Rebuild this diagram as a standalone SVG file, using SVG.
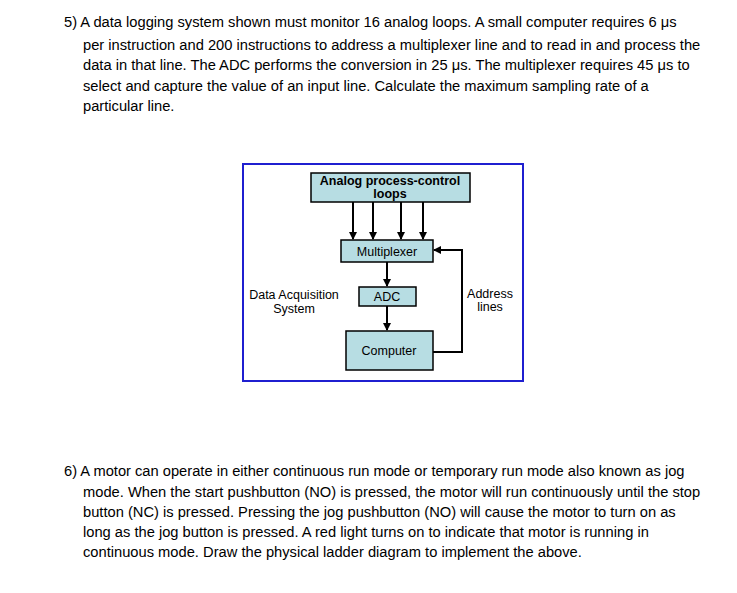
<svg xmlns="http://www.w3.org/2000/svg" width="737" height="593" viewBox="0 0 737 593">
<style>
.p{font-family:"Liberation Sans",Arial,sans-serif;font-size:14.7px;fill:#000}
.b{fill:#b7dde3;stroke:#000;stroke-width:1.5}
.t{font-family:"Liberation Sans",Arial,sans-serif;font-size:12.5px;fill:#000;text-anchor:middle}
.c{stroke:#000;stroke-width:2;fill:none}
</style>
<defs><marker id="a" markerWidth="8" markerHeight="8" refX="7" refY="4" orient="auto" markerUnits="userSpaceOnUse"><path d="M0,0L8,4L0,8z" fill="#000"/></marker></defs>
<rect width="737" height="593" fill="#fff"/>
<g id="text5" class="p">
<text x="64" y="27">5) A data logging system shown must monitor 16 analog loops. A small computer requires 6 μs</text>
<text x="83" y="50">per instruction and 200 instructions to address a multiplexer line and to read in and process the</text>
<text x="83" y="70">data in that line. The ADC performs the conversion in 25 μs. The multiplexer requires 45 μs to</text>
<text x="83" y="91">select and capture the value of an input line. Calculate the maximum sampling rate of a</text>
<text x="83" y="111">particular line.</text>
</g>
<rect id="frame" x="243" y="164" width="280" height="217" fill="none" stroke="#1f1fd0" stroke-width="2"/>
<g id="loops"><rect class="b" x="311" y="173" width="159" height="29"/><text class="t" x="390" y="185" font-weight="bold">Analog process-control</text><text class="t" x="390" y="198" font-weight="bold">loops</text></g>
<g id="mux"><rect class="b" x="341" y="240" width="92" height="22"/><text class="t" x="387" y="256">Multiplexer</text></g>
<g id="adc"><rect class="b" x="359" y="287" width="57" height="19"/><text class="t" x="387" y="301">ADC</text></g>
<g id="computer"><rect class="b" x="346" y="331" width="87" height="39"/><text class="t" x="389" y="355" font-size="14">Computer</text></g>
<g id="labels"><text class="t" x="294" y="299">Data Acquisition</text><text class="t" x="294" y="313">System</text><text class="t" x="490" y="298">Address</text><text class="t" x="490" y="311">lines</text></g>
<g id="connectors" class="c">
<line x1="353" y1="202" x2="353" y2="239" marker-end="url(#a)"/>
<line x1="373" y1="202" x2="373" y2="239" marker-end="url(#a)"/>
<line x1="401" y1="202" x2="401" y2="239" marker-end="url(#a)"/>
<line x1="423" y1="202" x2="423" y2="239" marker-end="url(#a)"/>
<line x1="387" y1="262" x2="387" y2="286" marker-end="url(#a)"/>
<line x1="387" y1="306" x2="387" y2="330" marker-end="url(#a)"/>
<polyline points="433,352 462,352 462,250 434,250" marker-end="url(#a)"/>
</g>
<g id="text6" class="p">
<text x="64" y="476">6) A motor can operate in either continuous run mode or temporary run mode also known as jog</text>
<text x="83" y="497">mode. When the start pushbutton (NO) is pressed, the motor will run continuously until the stop</text>
<text x="83" y="517">button (NC) is pressed. Pressing the jog pushbutton (NO) will cause the motor to turn on as</text>
<text x="83" y="537">long as the jog button is pressed. A red light turns on to indicate that motor is running in</text>
<text x="83" y="557">continuous mode. Draw the physical ladder diagram to implement the above.</text>
</g>
</svg>
